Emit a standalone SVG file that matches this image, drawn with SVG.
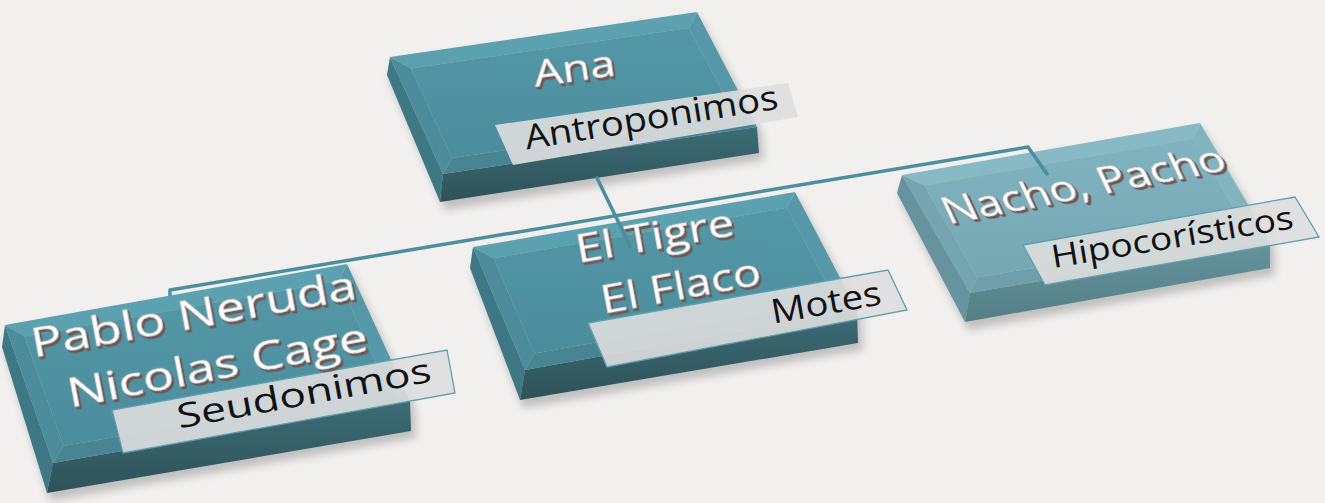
<svg xmlns="http://www.w3.org/2000/svg" width="1325" height="503" viewBox="0 0 1325 503">
<style>
.tb{fill:#5ca1b0}.rb{fill:#5698a7}.bb{fill:#488593}.lb{fill:#4c8c9b}.in{fill:url(#ing)}.fr{fill:url(#frg)}.sd{fill:#3e7885}
.ntb{fill:#88bac6}.nrb{fill:#82b4c0}.nbb{fill:#6e9faa}.nlb{fill:#74a5b1}.nin{fill:url(#ning)}.nfr{fill:url(#nfrg)}.nsd{fill:#67939e}
.sh{fill:#000;opacity:.2;filter:url(#blur)}
.lab{fill:#dedede;fill-opacity:.9}
.labs{stroke:#5e9fae;stroke-width:1.3}
.w{font-family:"Open Sans","Liberation Sans",sans-serif;fill:#fff;stroke:#cfcfcf;stroke-width:.5;text-anchor:middle;filter:url(#ext)}
.k{font-family:"Open Sans","Liberation Sans",sans-serif;fill:#111;text-anchor:middle}
.cn{fill:none;stroke:#4b8e9e;stroke-width:3.5;stroke-linejoin:round;stroke-linecap:round}
</style>
<defs>
<linearGradient id="ing" x1="0" y1="0" x2="0" y2="1"><stop offset="0" stop-color="#5497a7"/><stop offset="1" stop-color="#4b8d9d"/></linearGradient>
<linearGradient id="ning" x1="0" y1="0" x2="0" y2="1"><stop offset="0" stop-color="#80b3bf"/><stop offset="1" stop-color="#76a8b4"/></linearGradient>
<linearGradient id="frg" x1="0" y1="0" x2="0" y2="1"><stop offset="0" stop-color="#3b6c75"/><stop offset="1" stop-color="#2f5258"/></linearGradient>
<linearGradient id="nfrg" x1="0" y1="0" x2="0" y2="1"><stop offset="0" stop-color="#64939c"/><stop offset="1" stop-color="#557f87"/></linearGradient>
<filter id="blur" x="-10%" y="-10%" width="120%" height="130%"><feGaussianBlur stdDeviation="4"/></filter>
<filter id="ext" x="-10%" y="-30%" width="125%" height="170%">
<feFlood flood-color="#6e5853" result="f"/>
<feComposite in="f" in2="SourceAlpha" operator="in" result="c"/>
<feOffset in="c" dx="0.7" dy="1.1" result="o1"/>
<feOffset in="c" dx="1.4" dy="2.2" result="o2"/>
<feOffset in="c" dx="2" dy="3" result="o3"/>
<feMerge><feMergeNode in="o3"/><feMergeNode in="o2"/><feMergeNode in="o1"/><feMergeNode in="SourceGraphic"/></feMerge>
</filter>
</defs>
<rect width="1325" height="503" fill="#f1f0ee"/>

<g id="node-ana">
<polygon class="sh" points="393,63 700,18 762,133 764,160 445,210 390,82"/>
<polygon class="sd" points="390,57 443,174 440,202 387,75"/>
<polygon class="fr" points="443,174 757,127 759,153 440,202"/>
<polygon class="tb" points="390,57 697,12 689,28 411,68.5"/>
<polygon class="rb" points="697,12 757,127 735,116 689,28"/>
<polygon class="bb" points="452,158 735,116 757,127 443,174"/>
<polygon class="lb" points="390,57 411,68.5 452,158 443,174"/>
<polygon class="in" points="411,68.5 689,28 735,116 452,158"/>
<polygon class="lab" points="495,125 788,83 798,117 513,165"/>
<text class="w" transform="translate(576,81) rotate(-8)" font-size="37" textLength="82" lengthAdjust="spacingAndGlyphs">Ana</text>
<text class="k" transform="translate(653,129) rotate(-9.2)" font-size="34" textLength="256" lengthAdjust="spacingAndGlyphs">Antroponimos</text>
</g>

<g id="node-tigre">
<polygon class="sh" points="476,253 798,198 862,316 863,350 523,408 473,274"/>
<polygon class="sd" points="473,247 525,370 520,400 470,268"/>
<polygon class="fr" points="525,370 857,310 858,343 520,400"/>
<polygon class="tb" points="473,247 795,192 787.1,207.7 493.6,258.3"/>
<polygon class="rb" points="795,192 857,310 834.8,299.6 787.1,207.7"/>
<polygon class="bb" points="534.5,353.4 834.8,299.6 857,310 525,370"/>
<polygon class="lb" points="473,247 493.6,258.3 534.5,353.4 525,370"/>
<polygon class="in" points="493.6,258.3 787.1,207.7 834.8,299.6 534.5,353.4"/>
<polygon class="lab labs" points="588,323 888,270 907,310 607,367"/>
<text class="w" transform="translate(657,249) rotate(-10)" font-size="39" textLength="160" lengthAdjust="spacingAndGlyphs">El Tigre</text>
<text class="w" transform="translate(683,299) rotate(-10.5)" font-size="39" textLength="162" lengthAdjust="spacingAndGlyphs">El Flaco</text>
<text class="k" transform="translate(828,314) rotate(-10)" font-size="34" textLength="111" lengthAdjust="spacingAndGlyphs">Motes</text>
</g>

<g id="node-nacho">
<polygon class="sh" points="905,181 1203,129 1275,248 1275,275 968,330 900,200"/>
<polygon class="nsd" points="902,175 970,293 965,322 897,193"/>
<polygon class="nfr" points="970,293 1270,242 1270,268 965,322"/>
<polygon class="ntb" points="902,175 1200,123 1192.9,138.7 924.3,185.4"/>
<polygon class="nrb" points="1200,123 1270,242 1247.4,231.4 1192.9,138.7"/>
<polygon class="nbb" points="977.4,277.5 1247.4,231.4 1270,242 970,293"/>
<polygon class="nlb" points="902,175 924.3,185.4 977.4,277.5 970,293"/>
<polygon class="nin" points="924.3,185.4 1192.9,138.7 1247.4,231.4 977.4,277.5"/>
<polygon class="lab labs" points="1023,245 1295,197 1319,237 1045,285"/>
<text class="w" transform="translate(1089,197) rotate(-11) skewX(14)" font-size="38" textLength="286" lengthAdjust="spacingAndGlyphs">Nacho, Pacho</text>
<text class="k" transform="translate(1174,248) rotate(-9.4)" font-size="32" textLength="245" lengthAdjust="spacingAndGlyphs">Hipocorísticos</text>
</g>

<g id="connectors">
<path class="cn" d="M170,300 L170,290 L1028,147 L1047,174"/>
<path class="cn" d="M597,178 L630,246"/>
</g>

<g id="node-pablo">
<polygon class="sh" points="8,331 350,270 415,407 416,438 50,501 5,353"/>
<polygon class="sd" points="5,325 53,463 47,493 2,347"/>
<polygon class="fr" points="53,463 410,401 411,431 47,493"/>
<polygon class="tb" points="5,325 347,264 338.8,280.7 24.6,336.6"/>
<polygon class="rb" points="347,264 410,401 388.1,389.6 338.8,280.7"/>
<polygon class="bb" points="63.5,446.1 388.1,389.6 410,401 53,463"/>
<polygon class="lb" points="5,325 24.6,336.6 63.5,446.1 53,463"/>
<polygon class="in" points="24.6,336.6 338.8,280.7 388.1,389.6 63.5,446.1"/>
<polygon class="lab labs" points="112,410 447,350 455,393 123,453"/>
<text class="w" transform="translate(196,328) rotate(-10.3)" font-size="41" textLength="330" lengthAdjust="spacingAndGlyphs">Pablo Neruda</text>
<text class="w" transform="translate(220,379) rotate(-10.8)" font-size="41" textLength="305" lengthAdjust="spacingAndGlyphs">Nicolas Cage</text>
<text class="k" transform="translate(306,405) rotate(-10.5)" font-size="34" textLength="258" lengthAdjust="spacingAndGlyphs">Seudonimos</text>
</g>
</svg>
